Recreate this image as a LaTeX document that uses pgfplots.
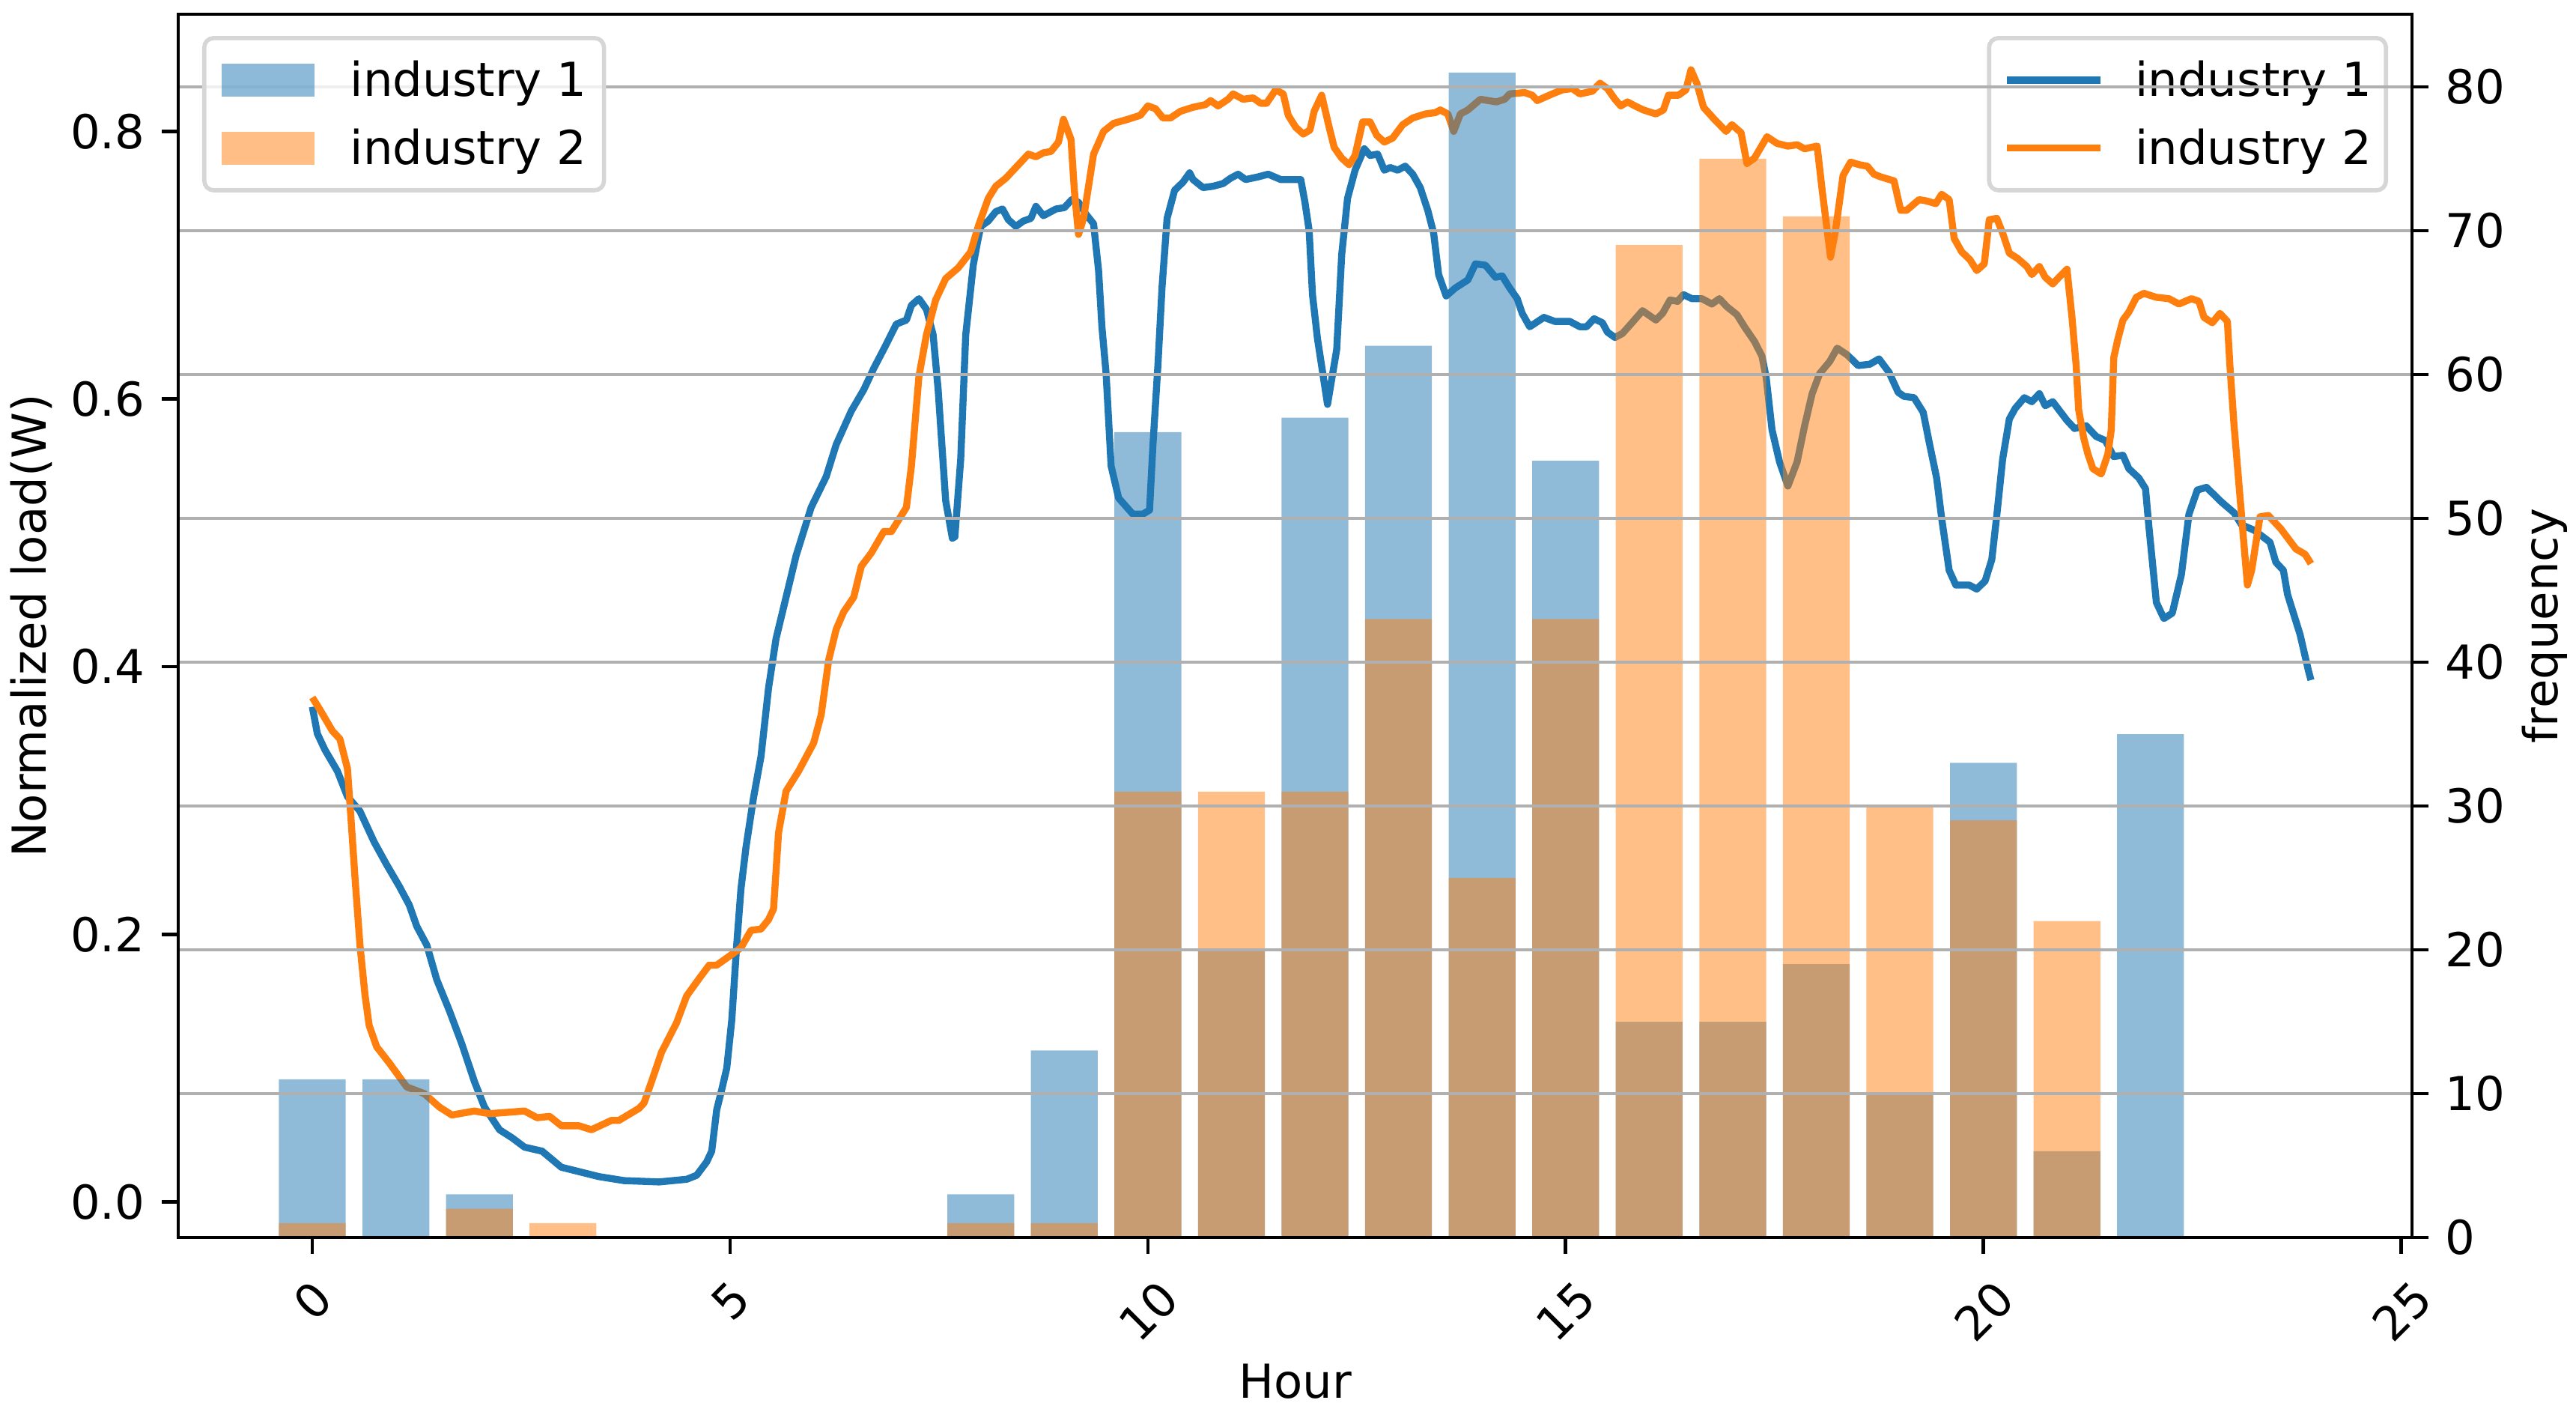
\documentclass[border=0pt]{standalone}
\usepackage{fontspec}
\setmainfont{DejaVu Sans}
\usepackage{pgfplots}
\pgfplotsset{compat=1.18}
\definecolor{c0}{HTML}{1F77B4}
\definecolor{c1}{HTML}{FF7F0E}
\definecolor{gridc}{HTML}{B0B0B0}
\definecolor{legframe}{HTML}{D6D6D6}
\pgfplotsset{
  common/.style={
    at={(0,0)}, anchor=south west, scale only axis,
    width=477.28pt, height=261.28pt,
    xmin=-1.605, xmax=25.13,
    axis line style={line width=0.75pt},
    tick align=outside, major tick length=3.5pt,
    tick style={line width=0.75pt, black},
    /pgf/number format/assume math mode=true,
    legend cell align=left,
    legend style={draw=legframe, line width=0.9pt, rounded corners=2pt, fill=white,
      fill opacity=0.8, text opacity=1, draw opacity=1,
      inner xsep=3.7pt, inner ysep=4.3pt, row sep=5.1pt,
      nodes={inner sep=0pt, text height=0.82em, text depth=0.12em}},
  },
}
\begin{document}
\begin{tikzpicture}
\path[use as bounding box] (-38.08pt,-36.48pt) rectangle (512.32pt,264.32pt);
\begin{axis}[common,
  ymin=-0.0265, ymax=0.8875,
  xtick={10,15,20,25}, extra x ticks={0,5},
  xtick pos=left, ytick pos=left,
  ytick={0,0.2,0.4,0.6,0.8},
  xticklabel style={inner sep=0pt, yshift=-4.8pt, xshift=1.9pt, rotate=45, anchor=north east},
  extra x tick style={xticklabel style={rotate=-45, xshift=-2.23pt, rotate=45}},
  yticklabel style={/pgf/number format/fixed, /pgf/number format/fixed zerofill, /pgf/number format/precision=1, inner sep=0pt, anchor=east, xshift=-3.4pt},
  xlabel={Hour}, ylabel={Normalized load(W)},
  every axis x label/.style={at={(axis description cs:0.5,-0.13105)}, anchor=base},
  every axis y label/.style={at={(axis description cs:-0.06587,0.5)}, rotate=90, anchor=center},
  legend style={at={(0.98927,0.98224)}, anchor=north east, inner xsep=3.1pt},
  legend image code/.code={\draw[#1, line cap=butt, sharp corners] (0pt,0pt) -- (20pt,0pt); \path (26.6pt,0pt);},
]
\addplot[c0, line width=1.5pt, line join=round] coordinates {
(0.00,0.370)(0.06,0.350)(0.15,0.338)(0.30,0.322)(0.42,0.303)(0.57,0.292)(0.74,0.269)(0.89,0.252)
(1.04,0.236)(1.16,0.222)(1.25,0.206)(1.37,0.192)(1.49,0.166)(1.64,0.143)(1.79,0.118)(1.94,0.090)
(2.06,0.071)(2.24,0.054)(2.39,0.048)(2.54,0.041)(2.75,0.038)(2.98,0.026)(3.43,0.019)(3.73,0.016)
(4.15,0.015)(4.48,0.017)(4.60,0.020)(4.72,0.030)(4.78,0.038)(4.84,0.069)(4.90,0.084)(4.96,0.100)
(5.02,0.136)(5.08,0.193)(5.13,0.234)(5.19,0.265)(5.28,0.302)(5.37,0.333)(5.46,0.384)(5.55,0.421)
(5.67,0.452)(5.79,0.483)(5.97,0.519)(6.15,0.542)(6.27,0.566)(6.45,0.591)(6.60,0.607)(6.72,0.623)
(6.87,0.641)(6.99,0.656)(7.11,0.659)(7.17,0.670)(7.26,0.675)(7.35,0.667)(7.43,0.648)(7.49,0.607)
(7.58,0.524)(7.66,0.496)(7.69,0.497)(7.76,0.555)(7.82,0.648)(7.91,0.700)(7.96,0.717)(8.00,0.729)
(8.09,0.733)(8.18,0.740)(8.26,0.742)(8.33,0.734)(8.42,0.729)(8.51,0.733)(8.60,0.735)(8.66,0.744)
(8.75,0.737)(8.90,0.742)(9.00,0.743)(9.09,0.749)(9.17,0.747)(9.26,0.738)(9.35,0.731)(9.41,0.696)
(9.45,0.654)(9.50,0.619)(9.56,0.550)(9.65,0.526)(9.82,0.514)(9.94,0.514)(10.02,0.517)(10.06,0.565)
(10.12,0.625)(10.17,0.684)(10.23,0.735)(10.32,0.756)(10.42,0.762)(10.50,0.769)(10.54,0.764)(10.66,0.758)
(10.78,0.759)(10.90,0.761)(10.99,0.765)(11.08,0.768)(11.17,0.764)(11.32,0.766)(11.44,0.768)(11.59,0.764)
(11.83,0.764)(11.88,0.747)(11.93,0.726)(11.97,0.678)(12.03,0.645)(12.15,0.596)(12.26,0.637)(12.32,0.708)
(12.39,0.750)(12.48,0.771)(12.59,0.787)(12.66,0.782)(12.75,0.783)(12.83,0.771)(12.90,0.773)(12.99,0.771)
(13.08,0.774)(13.17,0.768)(13.26,0.758)(13.35,0.741)(13.42,0.724)(13.48,0.693)(13.57,0.677)(13.68,0.683)
(13.83,0.689)(13.92,0.701)(14.04,0.700)(14.16,0.691)(14.24,0.692)(14.33,0.683)(14.42,0.675)(14.48,0.664)
(14.57,0.654)(14.74,0.661)(14.87,0.658)(15.05,0.658)(15.17,0.654)(15.25,0.654)(15.34,0.660)(15.44,0.657)
(15.50,0.650)(15.59,0.646)(15.68,0.649)(15.78,0.656)(15.92,0.666)(16.08,0.659)(16.16,0.664)(16.25,0.674)
(16.34,0.673)(16.41,0.678)(16.51,0.675)(16.63,0.675)(16.75,0.671)(16.84,0.675)(16.93,0.669)(17.05,0.663)
(17.14,0.654)(17.26,0.643)(17.35,0.632)(17.40,0.616)(17.47,0.577)(17.56,0.553)(17.66,0.535)(17.77,0.553)
(17.86,0.580)(17.95,0.604)(18.04,0.619)(18.16,0.628)(18.25,0.638)(18.37,0.633)(18.50,0.625)(18.64,0.626)
(18.75,0.630)(18.87,0.620)(18.98,0.605)(19.05,0.602)(19.17,0.601)(19.28,0.590)(19.35,0.568)(19.44,0.541)
(19.50,0.511)(19.59,0.472)(19.67,0.461)(19.83,0.461)(19.92,0.458)(20.02,0.464)(20.10,0.480)(20.16,0.513)
(20.23,0.555)(20.31,0.585)(20.38,0.593)(20.49,0.601)(20.58,0.598)(20.67,0.604)(20.74,0.595)(20.83,0.598)
(21.00,0.584)(21.09,0.578)(21.23,0.580)(21.35,0.572)(21.46,0.569)(21.56,0.557)(21.67,0.558)(21.74,0.548)
(21.86,0.541)(21.94,0.533)(21.98,0.505)(22.07,0.448)(22.16,0.436)(22.26,0.440)(22.37,0.469)(22.46,0.514)
(22.56,0.532)(22.67,0.534)(22.85,0.523)(23.00,0.515)(23.09,0.506)(23.24,0.502)(23.43,0.493)(23.50,0.478)
(23.59,0.472)(23.64,0.454)(23.79,0.424)(23.89,0.397)(23.92,0.390)
};
\addlegendentry{industry 1}
\addplot[c1, line width=1.5pt, line join=round] coordinates {
(0.00,0.377)(0.09,0.368)(0.24,0.352)(0.33,0.346)(0.42,0.324)(0.46,0.289)(0.51,0.243)(0.57,0.192)
(0.63,0.155)(0.68,0.132)(0.77,0.116)(0.92,0.104)(1.13,0.086)(1.34,0.081)(1.52,0.071)(1.67,0.065)
(1.94,0.068)(2.12,0.066)(2.54,0.068)(2.69,0.063)(2.84,0.064)(2.98,0.057)(3.19,0.057)(3.34,0.054)
(3.58,0.061)(3.67,0.061)(3.91,0.070)(3.97,0.074)(4.06,0.090)(4.18,0.112)(4.36,0.134)(4.48,0.154)
(4.63,0.167)(4.75,0.177)(4.84,0.177)(5.02,0.185)(5.13,0.190)(5.25,0.203)(5.37,0.204)(5.46,0.211)
(5.52,0.219)(5.58,0.276)(5.67,0.307)(5.82,0.322)(6.00,0.343)(6.09,0.364)(6.18,0.405)(6.27,0.428)
(6.36,0.441)(6.48,0.452)(6.57,0.475)(6.69,0.485)(6.84,0.501)(6.93,0.501)(7.11,0.519)(7.17,0.550)
(7.26,0.617)(7.35,0.648)(7.46,0.674)(7.58,0.690)(7.73,0.698)(7.88,0.710)(7.97,0.729)(8.09,0.750)
(8.18,0.759)(8.30,0.765)(8.42,0.773)(8.57,0.783)(8.66,0.781)(8.75,0.784)(8.84,0.785)(8.93,0.792)
(8.99,0.809)(9.08,0.794)(9.12,0.756)(9.17,0.723)(9.23,0.735)(9.29,0.759)(9.35,0.783)(9.47,0.800)
(9.59,0.806)(9.76,0.809)(9.91,0.812)(10.00,0.819)(10.09,0.817)(10.18,0.810)(10.27,0.810)(10.39,0.815)
(10.54,0.818)(10.69,0.820)(10.75,0.823)(10.84,0.819)(10.96,0.824)(11.02,0.828)(11.14,0.824)(11.26,0.825)
(11.35,0.821)(11.42,0.821)(11.53,0.831)(11.62,0.828)(11.68,0.812)(11.77,0.803)(11.86,0.798)(11.94,0.801)
(11.99,0.815)(12.08,0.827)(12.17,0.803)(12.23,0.788)(12.32,0.780)(12.41,0.775)(12.48,0.782)(12.57,0.807)
(12.66,0.807)(12.74,0.797)(12.83,0.792)(12.93,0.795)(13.05,0.805)(13.17,0.810)(13.32,0.813)(13.44,0.814)
(13.50,0.816)(13.59,0.813)(13.66,0.800)(13.74,0.813)(13.83,0.816)(13.98,0.824)(14.17,0.822)(14.27,0.824)
(14.33,0.828)(14.51,0.829)(14.60,0.827)(14.66,0.823)(14.84,0.828)(14.96,0.831)(15.08,0.832)(15.17,0.828)
(15.32,0.830)(15.41,0.836)(15.50,0.832)(15.59,0.824)(15.66,0.819)(15.74,0.822)(15.83,0.819)(15.93,0.816)
(16.08,0.813)(16.17,0.816)(16.23,0.827)(16.35,0.827)(16.44,0.831)(16.50,0.846)(16.57,0.836)(16.65,0.818)
(16.78,0.809)(16.92,0.800)(16.99,0.805)(17.10,0.799)(17.17,0.776)(17.26,0.780)(17.41,0.796)(17.53,0.791)
(17.66,0.789)(17.77,0.790)(17.86,0.787)(18.01,0.789)(18.07,0.756)(18.13,0.726)(18.17,0.706)(18.23,0.726)
(18.32,0.767)(18.41,0.777)(18.52,0.775)(18.61,0.774)(18.69,0.768)(18.77,0.766)(18.93,0.763)(19.01,0.741)
(19.08,0.741)(19.23,0.749)(19.32,0.748)(19.43,0.746)(19.50,0.753)(19.59,0.749)(19.65,0.720)(19.74,0.710)
(19.84,0.704)(19.92,0.696)(20.01,0.701)(20.07,0.734)(20.16,0.735)(20.23,0.724)(20.31,0.709)(20.41,0.705)
(20.52,0.699)(20.58,0.693)(20.67,0.699)(20.74,0.691)(20.83,0.686)(20.92,0.692)(21.00,0.697)(21.06,0.661)
(21.11,0.625)(21.14,0.592)(21.20,0.571)(21.25,0.559)(21.31,0.548)(21.41,0.544)(21.49,0.559)(21.53,0.577)
(21.56,0.631)(21.61,0.645)(21.67,0.659)(21.74,0.665)(21.83,0.676)(21.92,0.679)(22.07,0.676)(22.22,0.675)
(22.34,0.671)(22.49,0.675)(22.58,0.673)(22.64,0.661)(22.74,0.657)(22.83,0.664)(22.92,0.658)(22.95,0.625)
(23.00,0.580)(23.06,0.535)(23.12,0.490)(23.16,0.461)(23.21,0.472)(23.31,0.512)(23.41,0.513)(23.56,0.503)
(23.74,0.488)(23.85,0.484)(23.92,0.477)
};
\addlegendentry{industry 2}
\end{axis}
\begin{axis}[common,
  ymin=0, ymax=85.05,
  axis on top,
  xtick=\empty,
  ytick={0,10,...,80},
  ytick pos=right, yticklabel pos=right,
  ymajorgrids, major grid style={gridc, line width=0.6pt},
  yticklabel style={inner sep=0pt, anchor=west, xshift=3.4pt},
  ylabel={frequency},
  every axis y label/.style={at={(axis description cs:1.05934,0.5)}, rotate=90, anchor=center},
  legend style={at={(0.01073,0.98224)}, anchor=north west},
  legend image code/.code={\fill[#1, sharp corners] (0pt,-3.52pt) rectangle (19.84pt,3.52pt); \path (27.5pt,0pt);},
]
\addplot[ybar, bar width=0.8, bar shift=0pt, fill=c0, fill opacity=0.5, draw=none] coordinates {
(0,11)(1,11)(2,3)(8,3)(9,13)(10,56)(11,20)(12,57)(13,62)(14,81)(15,54)(16,15)(17,15)(18,19)(19,10)(20,33)(21,6)(22,35)
};
\addlegendentry{industry 1}
\addplot[ybar, bar width=0.8, bar shift=0pt, fill=c1, fill opacity=0.5, draw=none] coordinates {
(0,1)(2,2)(3,1)(8,1)(9,1)(10,31)(11,31)(12,31)(13,43)(14,25)(15,43)(16,69)(17,75)(18,71)(19,30)(20,29)(21,22)
};
\addlegendentry{industry 2}
\end{axis}
\end{tikzpicture}
\end{document}
